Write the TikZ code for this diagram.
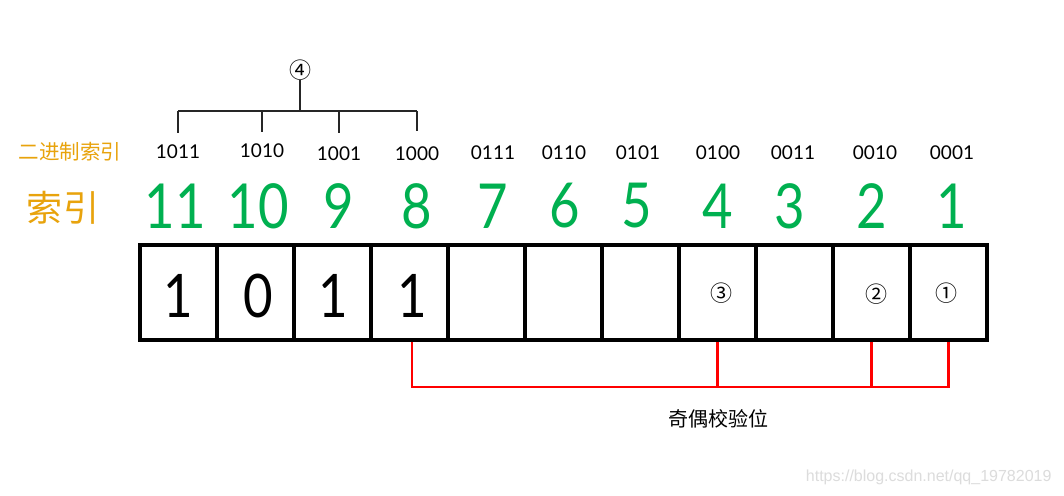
\documentclass[tikz,border=0pt]{standalone}
\usepackage{fontspec}
\usepackage{graphicx}
\setmainfont{Lato}
\newfontfamily\cjk{Noto Sans CJK SC}
\newfontfamily\wmfont{Liberation Sans}
\definecolor{idxgreen}{HTML}{00B050}
\definecolor{idxgold}{HTML}{E8A30C}
\definecolor{wmgray}{HTML}{DCDCDC}
\begin{document}
\begin{tikzpicture}[x=1pt,y=-1pt,
  cell/.style={draw,line width=3.6pt,minimum width=77pt,minimum height=95pt,inner sep=0pt,anchor=center},
  bin/.style={font=\fontsize{19}{20}\selectfont,inner sep=1pt},
  big/.style={text=idxgreen,font=\fontsize{62}{64}\selectfont,inner sep=0pt},
  bit/.style={font=\fontsize{60}{62}\selectfont,inner sep=0pt},
  circ/.style={font=\cjk\fontsize{22}{24}\selectfont,inner sep=0pt},
  parity/.style={draw=red,line width=2.4pt},
  brace/.style={draw=black!85,line width=1.3pt}]
\useasboundingbox (0,0) rectangle (1064,495);
\fill[white] (0,0) rectangle (1064,495);
% cells
\foreach \i in {1,...,11}{
  \node[cell] (c\i) at ({987-77*\i+38.5},292.5) {};
}
% bit values
\node[bit] (v11) at (178,296) {\scalebox{0.85}[1]{1}};
\node[bit] (v10) at (258,296) {\scalebox{0.85}[1]{0}};
\node[bit] (v9) at (333,296) {\scalebox{0.85}[1]{1}};
\node[bit] (v8) at (412,296) {\scalebox{0.85}[1]{1}};
\node[circ] (p3) at (721,293) {③};
\node[circ] (p2) at (876,294) {②};
\node[circ] (p1) at (946,293) {①};
% binary labels
\node[text=idxgold,font=\cjk\fontsize{20.5}{22}\selectfont] (binlab) at (70,152) {二进制索引};
\node[bin] (b11) at (178,152) {1011};
\node[bin] (b10) at (262,151) {1010};
\node[bin] (b9) at (339,154) {1001};
\node[bin] (b8) at (417,154) {1000};
\node[bin] (b7) at (493,153) {0111};
\node[bin] (b6) at (564,153) {0110};
\node[bin] (b5) at (638,153) {0101};
\node[bin] (b4) at (718,153) {0100};
\node[bin] (b3) at (793,153) {0011};
\node[bin] (b2) at (875,153) {0010};
\node[bin] (b1) at (952,153) {0001};
% index labels
\node[text=idxgold,font=\cjk\fontsize{36}{38}\selectfont] (idxlab) at (63,208) {索引};
\node[big] (n11) at (175,206) {\scalebox{0.85}[1]{11}};
\node[big] (n10) at (258,206) {\scalebox{0.85}[1]{10}};
\node[big] (n9) at (339,206) {\scalebox{0.85}[1]{9}};
\node[big] (n8) at (417,206) {\scalebox{0.85}[1]{8}};
\node[big] (n7) at (493,206) {\scalebox{0.85}[1]{7}};
\node[big] (n6) at (565,206) {\scalebox{0.85}[1]{6}};
\node[big] (n5) at (637,206) {\scalebox{0.85}[1]{5}};
\node[big] (n4) at (718,206) {\scalebox{0.85}[1]{4}};
\node[big] (n3) at (790,206) {\scalebox{0.85}[1]{3}};
\node[big] (n2) at (872,206) {\scalebox{0.85}[1]{2}};
\node[big] (n1) at (952,206) {\scalebox{0.85}[1]{1}};
% bracket over 1011..1000
\node[circ] (q4) at (300,70) {④};
\coordinate (bar) at (300,111);
\draw[brace] (q4.south) -- (bar);
\draw[brace] (b11.north|-bar) -- (b8.north|-bar);
\draw[brace] (b11.north|-bar) -- ++(0,22);
\draw[brace] (b10.north|-bar) -- ++(0,21);
\draw[brace] (b9.north|-bar) -- ++(0,22);
\draw[brace] (b8.north|-bar) -- ++(0,20);
% parity connectors
\coordinate (rl) at (0,387);
\draw[parity] ([xshift=2.5pt]c8.south) -- ([xshift=2.5pt]c8.south|-rl) -- (c1.south|-rl) -- (c1.south);
\draw[parity] (c4.south) -- (c4.south|-rl);
\draw[parity] (c2.south) -- (c2.south|-rl);
\node[font=\cjk\fontsize{20}{22}\selectfont] (ptext) at (718,419) {奇偶校验位};
% watermark
\node[text=wmgray,font=\wmfont\fontsize{16}{18}\selectfont,anchor=east] (wm) at (1055,477) {https://blog.csdn.net/qq\_19782019};
\end{tikzpicture}
\end{document}
